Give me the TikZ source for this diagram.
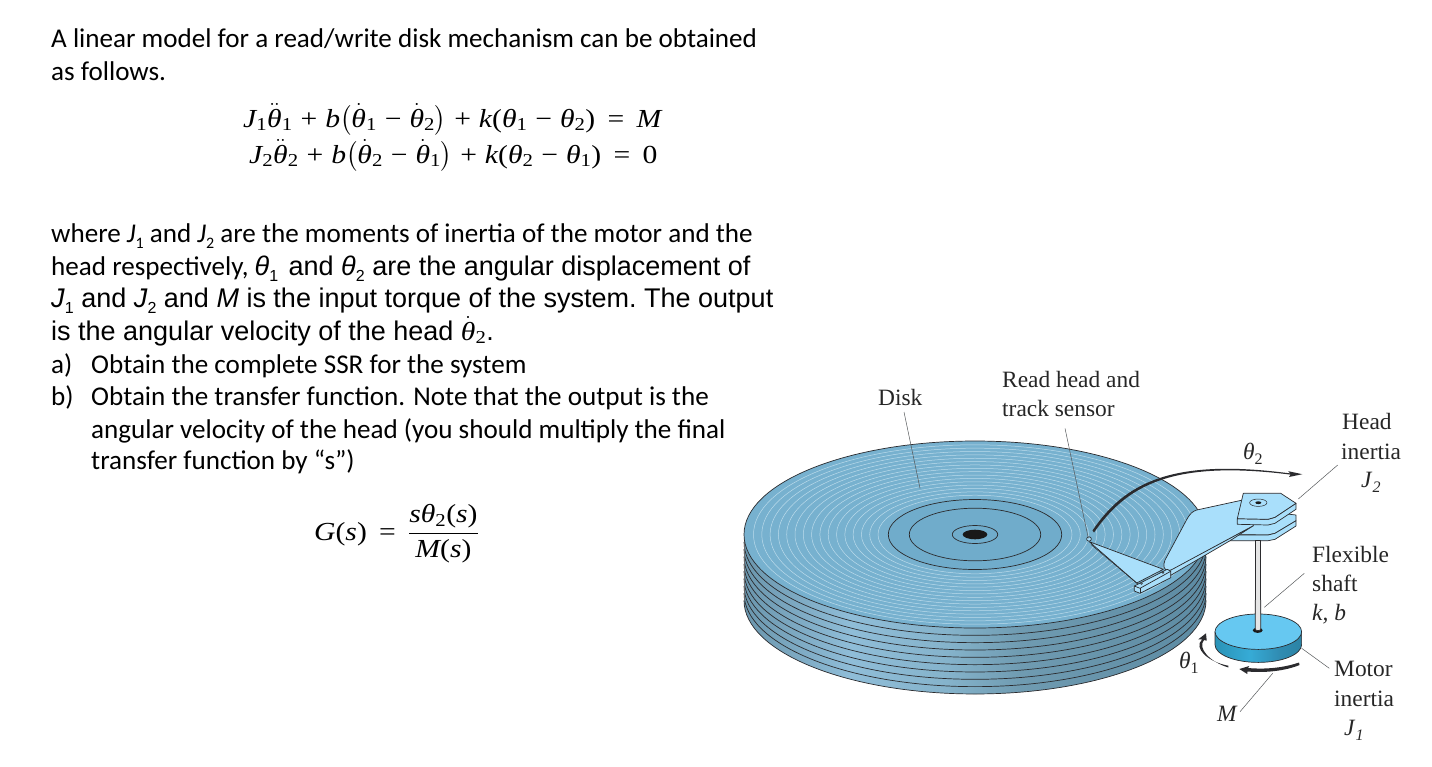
\RequirePackage{fix-cm}
\documentclass[tikz,border=0pt]{standalone}
\usepackage{amsmath}
\usepackage[no-math]{fontspec}
\setmainfont{Liberation Serif}
\newfontfamily\carlito{Carlito}
\newfontfamily\arial{Liberation Sans}
\newfontfamily\wideserif[FakeStretch=1.14]{Liberation Serif}
\newcommand\cbf{\carlito\fontsize{27.1}{30}\selectfont}
\newcommand\arf{\arial\fontsize{27}{30}\selectfont\frenchspacing}
\newcommand\lbf{\rmfamily\fontsize{23.4}{25}\selectfont}
\newcommand\msub[1]{\raisebox{-0.25em}{\fontsize{16}{16}\selectfont #1}}
\newcommand\lsub[1]{\raisebox{-0.22em}{\fontsize{16}{16}\selectfont #1}}
% math set in text fonts
\newcommand\mv[1]{\text{\wideserif\itshape #1}}
\newcommand\mr[1]{\text{\wideserif\upshape #1}}
\newcommand\pls{\mathbin{\mr{+}}}
\newcommand\mns{\mathbin{\mr{−}}}
\newcommand\eqs{\mathrel{\mr{=}}}
\newcommand\tha{\mv{θ}}
\newcommand\lp{\mr{(}}
\newcommand\rp{\mr{)}}
\newcommand\wsp{\medmuskip=5.5mu\relax\thickmuskip=8.5mu\relax}
\definecolor{discTop}{HTML}{77B1CF}
\definecolor{hubC}{HTML}{70ACCB}
\definecolor{trackC}{HTML}{BBDBEB}
\definecolor{armC}{HTML}{A9DFFB}
\definecolor{motorTop}{HTML}{66C8F1}
\definecolor{inkC}{HTML}{2B2B2E}
\definecolor{leadC}{HTML}{55585A}
\definecolor{sa}{HTML}{6B96AD}
\definecolor{sb}{HTML}{8FBDD8}
\definecolor{sc}{HTML}{85B3CB}
\definecolor{sd}{HTML}{6F9BB1}
\definecolor{se}{HTML}{5D8BA3}
\definecolor{ma}{HTML}{2A93B7}
\definecolor{mb}{HTML}{36ABD6}
\definecolor{mc}{HTML}{308CB2}
\definecolor{md}{HTML}{2B83A5}
\pgfdeclarehorizontalshading{sideShade}{100bp}{
 color(0bp)=(sa); color(25bp)=(sa); color(36.5bp)=(sb); color(47bp)=(sc);
 color(55bp)=(sd); color(75bp)=(se); color(100bp)=(se)}
\pgfdeclarehorizontalshading{motorShade}{100bp}{
 color(0bp)=(ma); color(25bp)=(ma); color(45bp)=(mb); color(62bp)=(mc);
 color(75bp)=(md); color(100bp)=(md)}
\tikzset{
 cb/.style={anchor=base west,inner sep=0pt,font=\cbf,text=black},
 ar/.style={anchor=base west,inner sep=0pt,font=\arf,text=black},
 lb/.style={anchor=base west,inner sep=0pt,font=\lbf,text=black!85},
 eqn/.style={anchor=base west,inner sep=0pt,font=\rmfamily\fontsize{26}{29}\selectfont,text=black},
 lead/.style={draw=leadC,line width=0.5pt},
 edge/.style={draw=inkC,line width=0.7pt,line join=round},
 armface/.style={fill=armC,edge},
 ring/.style={draw=inkC,line width=0.7pt},
 track/.style={draw=trackC,line width=0.5pt},
 tick/.style={fill=inkC}
}
\begin{document}
\begin{tikzpicture}[x=1pt,y=-1pt]
\useasboundingbox (0,0) rectangle (1432,766);
% ---- text
\node[cb] (t1) at (51,47) {A linear model for a read/write disk mechanism can be obtained};
\node[cb] (t2) at (51,80) {as follows.};
\node[eqn] (e1) at (243,127) {$\wsp\mv{J}_{\mr{1}}\ddot{\tha}_{\mr{1}}\pls\mv{b}\bigl(\dot{\tha}_{\mr{1}}\mns\dot{\tha}_{\mr{2}}\bigr)\pls\mv{k}\lp\tha_{\mr{1}}\mns\tha_{\mr{2}}\rp\eqs\mv{M}$};
\node[eqn] (e2) at (249,163) {$\wsp\mv{J}_{\mr{2}}\ddot{\tha}_{\mr{2}}\pls\mv{b}\bigl(\dot{\tha}_{\mr{2}}\mns\dot{\tha}_{\mr{1}}\bigr)\pls\mv{k}\lp\tha_{\mr{2}}\mns\tha_{\mr{1}}\rp\eqs\mr{0}$};
\node[cb] (t3) at (51,242) {where \textit{J}\msub{1} and \textit{J}\msub{2} are the moments of inertia of the motor and the};
\node[cb] (t4) at (51,275) {head respectively, {\arf\textit{θ}\msub{1}\hspace{3pt} and \textit{θ}\msub{2} are the angular displacement of}};
\node[ar] (t5) at (51,307) {\textit{J}\msub{1} and \textit{J}\msub{2} and \textit{M} is the input torque of the system. The output};
\node[ar] (t6) at (51,340) {is the angular velocity of the head {\rmfamily\fontsize{26}{29}\selectfont$\dot{\tha}_{\mr{2}}$}.};
\node[cb] (t7) at (51,373) {a)};
\node[cb] (t8) at (91,373) {Obtain the complete SSR for the system};
\node[cb] (t9) at (51,405) {b)};
\node[cb] (t10) at (91,405) {Obtain the transfer function. Note that the output is the};
\node[cb] (t11) at (91,438) {angular velocity of the head (you should multiply the final};
\node[cb] (t12) at (91,469) {transfer function by “s”)};
\node[eqn] (e3) at (314,540) {$\wsp\mv{G}\lp\mv{s}\rp\eqs\dfrac{\mv{s}\tha_{\mr{2}}\lp\mv{s}\rp}{\mv{M}\lp\mv{s}\rp}$};
% ---- disk stack
\shade[shading=sideShade] (744,534.5) -- (744,600.5) arc[start angle=180,end angle=0,x radius=231,y radius=93.5] -- (1206,534.5) -- cycle;
\foreach \k in {1,...,9}{
  \draw[ring] (744,{534.5+7.33*\k}) arc[start angle=180,end angle=0,x radius=231,y radius=93.5];
}
\draw[edge,draw=inkC!70] (744,534.5) -- (744,600.5);
\filldraw[fill=discTop,ring] (975,534.5) ellipse[x radius=231,y radius=93.5];
\foreach \r in {97,105.3,...,223}{
  \draw[track] (975,534.5) ellipse[x radius=\r,y radius={0.405*\r}];
}
\filldraw[fill=hubC,ring] (975,534.5) ellipse[x radius=86.7,y radius=35];
\draw[ring] (975,534.5) ellipse[x radius=65.7,y radius=26.3];
\draw[ring] (975,534.5) ellipse[x radius=22.7,y radius=9];
\fill[black!90] (975,534.5) ellipse[x radius=12.3,y radius=4.8];
% ---- flexure and slider
\filldraw[armface] (1089.3,541.7) -- (1163.3,569.3) -- (1136.7,583) -- cycle;
\draw[edge,line width=0.5pt] (1091,544.5) -- (1139,585);
\filldraw[armface] (1089,539) ellipse[x radius=2.4,y radius=2.2];
% ---- lower head plate
\filldraw[armface] (1229,534.5) -- (1268,535) -- (1275,533.3) -- (1296,520.7) -- (1296,515) -- (1270,512) -- (1235,520) -- cycle;
\filldraw[armface] (1220,535) -- (1268,535) -- (1275,533.3) -- (1296,520.7) -- (1296,526) -- (1275,539.3) -- (1268,540.7) -- (1229,540.7) -- cycle;
% ---- shaft
\filldraw[fill=black!10,edge] (1255.3,540.7) rectangle (1260.7,630);
% ---- arm underside and top
\filldraw[armface] (1170,570) -- (1253.3,525.7) -- (1230,540.7) -- (1170,575.7) -- cycle;
\filldraw[armface] (1242.7,500) -- (1196.7,510) .. controls (1192,511.5) and (1190,514) .. (1187,519) -- (1165,560) .. controls (1162.5,566) and (1164,570) .. (1168,570.3) -- (1171,570) -- (1253.3,525.7) -- (1250,505) -- cycle;
% ---- slider bar
\filldraw[armface] (1134.3,586) -- (1167.3,569.3) -- (1170.7,571.3) -- (1170.7,577.7) -- (1140,593.3) -- (1134.3,591) -- cycle;
\draw[edge] (1134.3,586) -- (1140,588.3) -- (1170.7,571.3);
\draw[edge] (1140,588.3) -- (1140,593.3);
\filldraw[armface,line width=0.4pt] (1141.5,583.5) circle[radius=1];
\filldraw[armface,line width=0.4pt] (1163,572.5) circle[radius=1];
% ---- top head plate
\filldraw[armface] (1237.3,518.7) -- (1268,519.3) -- (1275,517.3) -- (1296,503.3) -- (1296,509.3) -- (1275,523.3) -- (1268,525) -- (1237.3,524.3) -- cycle;
\filldraw[armface] (1243.3,493.3) -- (1280.7,493.3) -- (1296,503.3) -- (1275,517.3) -- (1268,519.3) -- (1237.3,518.7) -- cycle;
\draw[edge,line width=0.5pt] (1258.3,502.7) ellipse[x radius=8.7,y radius=3.7];
\fill[black!90] (1258.3,502.7) ellipse[x radius=3,y radius=1.4];
% ---- motor
\shade[shading=motorShade] (1215,631.7) -- (1215,644.7) arc[start angle=180,end angle=0,x radius=43.3,y radius=17.7] -- (1301.6,631.7) -- cycle;
\draw[edge] (1215,631.7) -- (1215,644.7) arc[start angle=180,end angle=0,x radius=43.3,y radius=17.7] -- (1301.6,631.7);
\filldraw[fill=motorTop,edge] (1258.3,631.7) ellipse[x radius=43.3,y radius=17.7];
\fill[black!90] (1257.7,630.3) ellipse[x radius=5,y radius=2.6];
\filldraw[fill=black!10,edge] (1255.3,600) -- (1255.3,629.5) arc[start angle=180,end angle=0,x radius=2.7,y radius=1] -- (1260.7,600);
% ---- arrows
\fill[tick] (1092.5,530.5) .. controls (1124,484) and (1170,457.5) .. (1290,473.4) -- (1288.3,471.2) -- (1302.3,474.2) -- (1289,477) -- (1290.5,474.6) .. controls (1171,459.5) and (1126.5,486) .. (1094,532.5) -- cycle;
\fill[tick] (1228.3,665.7) .. controls (1208,662) and (1193,648) .. (1202,639.5) -- (1198.3,639.3) -- (1206,633.3) -- (1206.7,640.7) -- (1204,640) .. controls (1197,648) and (1210,662) .. (1228.3,667.5) -- cycle;
\fill[tick] (1299,662.5) .. controls (1283,668) and (1265,669.5) .. (1248,668) -- (1249.3,666) -- (1239.3,669) -- (1247.3,674) -- (1247.5,671.5) .. controls (1265,673) and (1285,671) .. (1299.5,665) -- cycle;
% ---- leaders
\draw[lead] (904,412) -- (920,488.3);
\draw[lead] (1065,428.3) -- (1088.3,538.3);
\draw[lead] (1337.7,465) -- (1298.3,499);
\draw[lead] (1304.3,573.3) -- (1264.3,607.3);
\draw[lead] (1301.7,648.3) -- (1329.3,668.3);
\draw[lead] (1272.7,673.3) -- (1240,711.7);
% ---- labels
\node[lb] (l1) at (1002,387) {Read head and};
\node[lb] (l2) at (1002,416) {track sensor};
\node[lb] (l3) at (878,405) {Disk};
\node[lb] (l4) at (1342,429) {Head};
\node[lb] (l5) at (1341,459) {inertia};
\node[lb] (l6) at (1361,487) {\textit{J}\lsub{\textit{2}}};
\node[lb] (l7) at (1243,459) {\textit{θ}\lsub{2}};
\node[lb] (l8) at (1312,562) {Flexible};
\node[lb] (l9) at (1312,591) {shaft};
\node[lb] (l10) at (1312,620) {\textit{k, b}};
\node[lb] (l11) at (1179,668) {\textit{θ}\lsub{1}};
\node[lb] (l12) at (1334,676) {Motor};
\node[lb] (l13) at (1334,706) {inertia};
\node[lb] (l14) at (1344,735) {\textit{J}\lsub{\textit{1}}};
\node[lb] (l15) at (1217,721) {\textit{M}};
\end{tikzpicture}
\end{document}
